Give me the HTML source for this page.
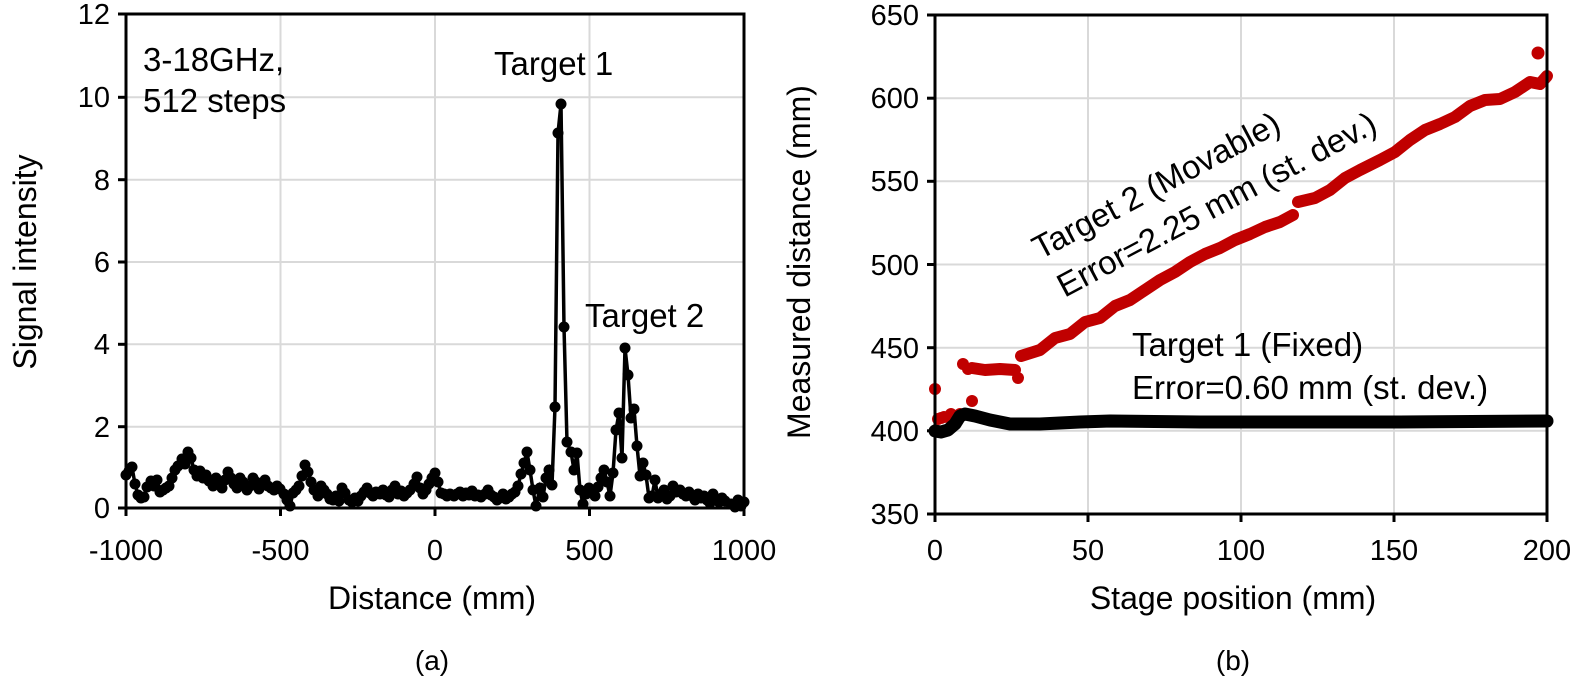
<!DOCTYPE html>
<html><head><meta charset="utf-8"><style>
html,body{margin:0;padding:0;background:#fff;}
svg{display:block;font-family:"Liberation Sans",sans-serif;}
</style></head><body>
<svg width="1570" height="680" viewBox="0 0 1570 680" xmlns="http://www.w3.org/2000/svg">
<defs>
<marker id="dot" markerUnits="userSpaceOnUse" markerWidth="12" markerHeight="12" refX="6" refY="6"><circle cx="6" cy="6" r="5.5" fill="#000"/></marker>
</defs>
<g stroke="#d9d9d9" stroke-width="2">
<line x1="126" x2="744" y1="426.7" y2="426.7"/><line x1="126" x2="744" y1="344.3" y2="344.3"/><line x1="126" x2="744" y1="262" y2="262"/><line x1="126" x2="744" y1="179.7" y2="179.7"/><line x1="126" x2="744" y1="97.3" y2="97.3"/>
<line x1="280.5" x2="280.5" y1="14" y2="508"/><line x1="435" x2="435" y1="14" y2="508"/><line x1="589.5" x2="589.5" y1="14" y2="508"/>
<line x1="935" x2="1547" y1="430.8" y2="430.8"/><line x1="935" x2="1547" y1="347.7" y2="347.7"/><line x1="935" x2="1547" y1="264.5" y2="264.5"/><line x1="935" x2="1547" y1="181.3" y2="181.3"/><line x1="935" x2="1547" y1="98.2" y2="98.2"/>
<line x1="1088" x2="1088" y1="15" y2="514"/><line x1="1241" x2="1241" y1="15" y2="514"/><line x1="1394" x2="1394" y1="15" y2="514"/>
</g>
<path fill="none" stroke="#000" stroke-width="3.5" marker-start="url(#dot)" marker-mid="url(#dot)" marker-end="url(#dot)" d="M126,475 L129,471 L132,467 L135,484 L138,495 L141,498 L144,497 L147,487 L151,481 L154,486 L157,480 L160,492 L163,490 L166,488 L169,486 L172,478 L175,470 L178,466 L182,459 L185,464 L188,452 L191,458 L194,470 L197,476 L200,471 L203,478 L206,475 L209,481 L213,486 L216,478 L219,483 L222,488 L225,480 L228,472 L231,478 L234,484 L237,488 L240,478 L243,482 L247,490 L250,486 L253,478 L256,482 L259,489 L262,485 L265,480 L268,486 L271,488 L274,490 L277,486 L280,489 L284,494 L287,500 L290,506 L293,493 L296,490 L299,486 L302,476 L305,465 L308,472 L311,482 L314,490 L318,496 L321,486 L324,490 L327,494 L330,499 L333,500 L336,496 L339,501 L342,488 L345,493 L349,500 L352,502 L355,498 L358,501 L361,496 L364,492 L367,488 L370,493 L373,496 L376,492 L380,494 L383,490 L386,495 L389,497 L392,490 L395,486 L398,494 L401,491 L404,496 L407,493 L410,490 L414,484 L417,477 L420,488 L423,494 L426,490 L429,484 L432,478 L435,473 L438,482 L441,493 L444,494 L447,496 L450,494 L454,496 L457,494 L460,492 L463,496 L466,493 L469,495 L472,491 L475,496 L478,495 L481,497 L485,494 L488,490 L491,495 L494,497 L497,500 L500,498 L503,494 L506,499 L509,497 L512,494 L515,492 L518,486 L521,474 L524,463 L527,452 L530,470 L533,490 L536,506 L540,488 L543,497 L546,478 L549,470 L552,485 L555,407 L558,133 L561,104 L564,327 L567,442 L571,452 L574,470 L577,453 L580,490 L583,504 L586,494 L589,488 L592,491 L595,496 L598,487 L601,478 L604,470 L607,482 L610,496 L613,473 L616,430 L619,413 L622,458 L625,348 L628,375 L631,418 L634,409 L637,446 L640,476 L643,463 L646,475 L649,498 L652,496 L655,480 L658,498 L661,494 L664,490 L667,499 L670,496 L673,486 L676,492 L680,490 L683,494 L686,496 L689,492 L692,496 L695,500 L698,494 L701,498 L704,496 L707,500 L710,503 L713,494 L716,500 L719,502 L722,498 L725,501 L731,504 L735,507 L738,500 L741,506 L744,502"/>
<g fill="none" stroke="#c00000" stroke-width="12" stroke-linecap="round" stroke-linejoin="round">
<path d="M1021,356 L1040,350 L1055,338 L1070,334 L1085,322 L1100,318 L1115,306 L1130,300 L1145,290 L1160,280 L1175,272 L1190,262 L1205,254 L1220,248 L1235,240 L1250,234 L1265,227 L1280,222 L1293,215"/>
<path d="M1298,202 L1315,198 L1330,190 L1345,178 L1360,170 L1380,160 L1395,152 L1410,140 L1425,130 L1440,124 L1455,117 L1470,106 L1485,100 L1500,99 L1515,92 L1530,82 L1540,84 L1547,76"/>
<path d="M972,368 L985,370 L1000,369 L1015,370"/>
</g>
<g fill="#c00000">
<circle cx="935" cy="389" r="6"/><circle cx="938" cy="419" r="6"/><circle cx="941" cy="418" r="6"/><circle cx="944" cy="417" r="6"/><circle cx="948" cy="417" r="6"/><circle cx="951" cy="414" r="6"/><circle cx="955" cy="418" r="6"/><circle cx="960" cy="414" r="6"/><circle cx="963" cy="364" r="6"/><circle cx="968" cy="369" r="6"/><circle cx="972" cy="401" r="6"/><circle cx="1018" cy="378" r="6"/><circle cx="1538" cy="53" r="6.5"/>
</g>
<path fill="none" stroke="#000" stroke-width="13" stroke-linecap="round" stroke-linejoin="round" d="M935,431 L941,432 L948,430 L955,424 L960,416 L965,414 L975,416 L990,420 L1010,424 L1040,424 L1080,422 L1110,421 L1200,422 L1300,422 L1400,422 L1547,421"/>
<g fill="none" stroke="#000" stroke-width="3">
<rect x="126" y="14" width="618" height="494"/>
<line x1="118" x2="126" y1="508" y2="508"/><line x1="118" x2="126" y1="426.7" y2="426.7"/><line x1="118" x2="126" y1="344.3" y2="344.3"/><line x1="118" x2="126" y1="262" y2="262"/><line x1="118" x2="126" y1="179.7" y2="179.7"/><line x1="118" x2="126" y1="97.3" y2="97.3"/><line x1="118" x2="126" y1="14" y2="14"/>
<line x1="126" x2="126" y1="508" y2="516"/><line x1="280.5" x2="280.5" y1="508" y2="516"/><line x1="435" x2="435" y1="508" y2="516"/><line x1="589.5" x2="589.5" y1="508" y2="516"/><line x1="744" x2="744" y1="508" y2="516"/>
<rect x="935" y="15" width="612" height="499"/>
<line x1="927" x2="935" y1="514" y2="514"/><line x1="927" x2="935" y1="430.8" y2="430.8"/><line x1="927" x2="935" y1="347.7" y2="347.7"/><line x1="927" x2="935" y1="264.5" y2="264.5"/><line x1="927" x2="935" y1="181.3" y2="181.3"/><line x1="927" x2="935" y1="98.2" y2="98.2"/><line x1="927" x2="935" y1="15" y2="15"/>
<line x1="935" x2="935" y1="514" y2="522"/><line x1="1088" x2="1088" y1="514" y2="522"/><line x1="1241" x2="1241" y1="514" y2="522"/><line x1="1394" x2="1394" y1="514" y2="522"/><line x1="1547" x2="1547" y1="514" y2="522"/>
</g>
<g font-size="29" fill="#000" text-anchor="end">
<text x="110" y="518">0</text><text x="110" y="437">2</text><text x="110" y="354">4</text><text x="110" y="272">6</text><text x="110" y="190">8</text><text x="110" y="107">10</text><text x="110" y="24">12</text>
<text x="919" y="524">350</text><text x="919" y="441">400</text><text x="919" y="358">450</text><text x="919" y="275">500</text><text x="919" y="191">550</text><text x="919" y="108">600</text><text x="919" y="25">650</text>
</g>
<g font-size="29" fill="#000" text-anchor="middle">
<text x="126" y="560">-1000</text><text x="280.5" y="560">-500</text><text x="435" y="560">0</text><text x="589.5" y="560">500</text><text x="744" y="560">1000</text>
<text x="935" y="560">0</text><text x="1088" y="560">50</text><text x="1241" y="560">100</text><text x="1394" y="560">150</text><text x="1547" y="560">200</text>
</g>
<text x="36" y="262" font-size="32" text-anchor="middle" transform="rotate(-90 36 262)">Signal intensity</text>
<text x="432" y="609" font-size="32" text-anchor="middle">Distance (mm)</text>
<text x="432" y="670" font-size="28" text-anchor="middle">(a)</text>
<text x="143" y="71" font-size="33">3-18GHz,</text>
<text x="143" y="112" font-size="33">512 steps</text>
<text x="494" y="75" font-size="33">Target 1</text>
<text x="585" y="327" font-size="33">Target 2</text>
<text x="810" y="262" font-size="32" text-anchor="middle" transform="rotate(-90 810 262)">Measured distance (mm)</text>
<text x="1233" y="609" font-size="32" text-anchor="middle">Stage position (mm)</text>
<text x="1233" y="670" font-size="28" text-anchor="middle">(b)</text>
<text x="1132" y="356" font-size="33">Target 1 (Fixed)</text>
<text x="1132" y="399" font-size="33">Error=0.60 mm (st. dev.)</text>
<g transform="translate(1040,260) rotate(-28)" font-size="33">
<text x="0" y="0">Target 2 (Movable)</text>
<text x="4" y="45">Error=2.25 mm (st. dev.)</text>
</g>
</svg>
</body></html>
